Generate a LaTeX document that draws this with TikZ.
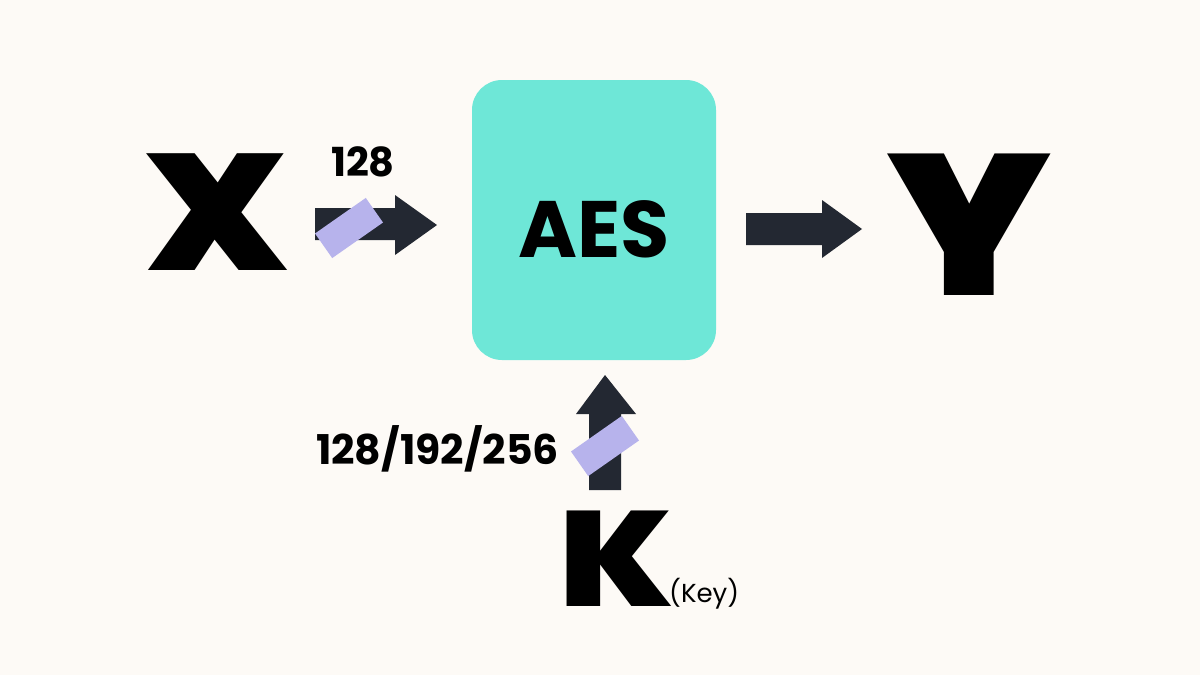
\documentclass[tikz,border=0pt]{standalone}
\usepackage{fontspec}
\setmainfont{Poppins}
\newfontfamily\heavy{Poppins Black}
\definecolor{bg}{HTML}{FDFAF6}
\definecolor{aes}{HTML}{6EE7D7}
\definecolor{arr}{HTML}{232832}
\definecolor{tag}{HTML}{B7B3EC}
\begin{document}
\begin{tikzpicture}[x=1pt,y=-1pt,
  arrowshape/.style={fill=arr},
  tagbox/.style={fill=tag,minimum width=62pt,minimum height=30pt,inner sep=0pt},
  big/.style={inner sep=0pt}]
\fill[bg] (0,0) rectangle (1200,675);
\useasboundingbox (0,0) rectangle (1200,675);
\node[fill=aes,rounded corners=30pt,minimum width=244pt,minimum height=280pt,inner sep=0pt] (aes) at (594,220) {};
\node[big,font=\fontsize{80}{80}\selectfont\bfseries] (aestxt) at (594,229) {AES};
\node[big,xscale=1.12,font=\fontsize{165}{165}\selectfont\heavy] (x) at (217,212) {X};
\node[big,xscale=1.12,font=\fontsize{200}{200}\selectfont\heavy] (y) at (969,225) {Y};
\node[big,xscale=1.12,font=\fontsize{135}{135}\selectfont\heavy] (k) at (617,559) {K};
\node[inner sep=0pt,anchor=west,font=\fontsize{26}{26}\selectfont] (key) at (669,594) {(Key)};
% arrows
\fill[arrowshape] (315,208) -- (395,208) -- (395,195) -- (437,225) -- (395,255) -- (395,240) -- (315,240) -- cycle;
\fill[arrowshape] (746,213) -- (822,213) -- (822,200) -- (862,229) -- (822,258) -- (822,245) -- (746,245) -- cycle;
\fill[arrowshape] (589,490) -- (589,414) -- (576,414) -- (605,375) -- (636,414) -- (621,414) -- (621,490) -- cycle;
\node[tagbox,rotate=35] (t1) at (349,228) {};
\node[tagbox,rotate=35] (t2) at (605,446) {};
\node[inner sep=0pt,font=\fontsize{40}{40}\selectfont\bfseries] (l1) at (363,162) {128};
\node[inner sep=0pt,anchor=east,font=\fontsize{41}{41}\selectfont\bfseries] (l2) at (559,449) {128/192/256};
\end{tikzpicture}
\end{document}
